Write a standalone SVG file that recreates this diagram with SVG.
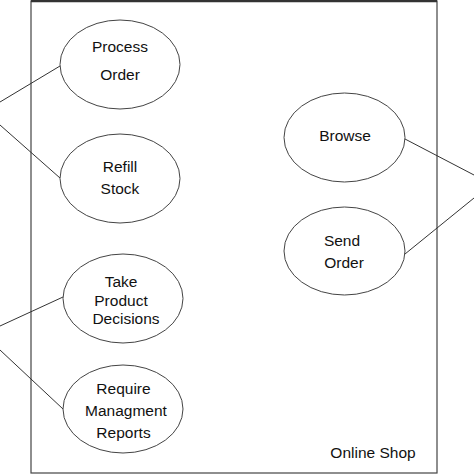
<svg xmlns="http://www.w3.org/2000/svg" width="474" height="474" viewBox="0 0 474 474">
<style>
.uc{fill:#fff;stroke:#444;stroke-width:1}
.t{font-family:"Liberation Sans",Arial,sans-serif;font-size:15.5px;fill:#111;text-anchor:middle}
.c{stroke:#333;stroke-width:1;fill:none}
</style>
<rect x="0" y="0" width="474" height="474" fill="#fff"/>
<g id="system">
<rect x="31" y="1" width="406" height="472" fill="none" stroke="#444" stroke-width="1.2"/>
<line x1="31" y1="1" x2="437" y2="1" stroke="#333" stroke-width="2.5"/>
<text class="t" x="373" y="458">Online Shop</text>
</g>
<g id="connectors">
<line class="c" x1="0" y1="102" x2="60" y2="66"/>
<line class="c" x1="0" y1="125" x2="60" y2="178"/>
<line class="c" x1="0" y1="326" x2="63" y2="297"/>
<line class="c" x1="0" y1="350" x2="63" y2="409"/>
<line class="c" x1="405" y1="139" x2="474" y2="175"/>
<line class="c" x1="474" y1="198" x2="405" y2="254"/>
</g>
<g id="process-order">
<ellipse class="uc" cx="120" cy="64.5" rx="60" ry="44.5"/>
<text class="t" x="120" y="52">Process</text>
<text class="t" x="120" y="80">Order</text>
</g>
<g id="refill-stock">
<ellipse class="uc" cx="120" cy="178.5" rx="60" ry="44.5"/>
<text class="t" x="120" y="172">Refill</text>
<text class="t" x="120" y="194">Stock</text>
</g>
<g id="take-product-decisions">
<ellipse class="uc" cx="123" cy="298.5" rx="60" ry="44.5"/>
<text class="t" x="121" y="287">Take</text>
<text class="t" x="121" y="305.5">Product</text>
<text class="t" x="126" y="324">Decisions</text>
</g>
<g id="require-managment-reports">
<ellipse class="uc" cx="123" cy="409" rx="60" ry="44"/>
<text class="t" x="123.5" y="394">Require</text>
<text class="t" x="126" y="416">Managment</text>
<text class="t" x="123.5" y="438">Reports</text>
</g>
<g id="browse">
<ellipse class="uc" cx="344.5" cy="137.5" rx="60.5" ry="44.5"/>
<text class="t" x="345" y="141">Browse</text>
</g>
<g id="send-order">
<ellipse class="uc" cx="344.5" cy="251" rx="60.5" ry="44"/>
<text class="t" x="342" y="246">Send</text>
<text class="t" x="344" y="268">Order</text>
</g>
</svg>
